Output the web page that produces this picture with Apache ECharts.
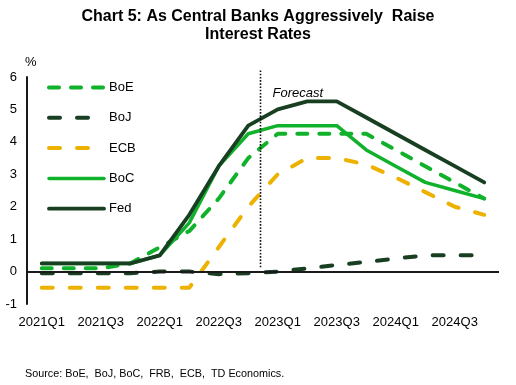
<!DOCTYPE html>
<html>
<head>
<meta charset="utf-8">
<script src="https://cdn.jsdelivr.net/npm/echarts@6/dist/echarts.min.js"></script>
<style>
html,body{margin:0;padding:0;background:#fff;}
#c{width:516px;height:385px;}
</style>
</head>
<body>
<div id="c"></div>
<script>
var categories = ['2021Q1','2021Q2','2021Q3','2021Q4','2022Q1','2022Q2','2022Q3','2022Q4','2023Q1','2023Q2','2023Q3','2023Q4','2024Q1','2024Q2','2024Q3','2024Q4'];
var boe = [0.1,0.1,0.1,0.25,0.75,1.25,2.25,3.5,4.25,4.25,4.25,4.25,3.75,3.25,2.75,2.25];
var boj = [-0.05,-0.05,-0.05,-0.05,0,0,-0.08,-0.05,0,0.1,0.2,0.3,0.4,0.5,0.5,0.5];
var ecb = [-0.5,-0.5,-0.5,-0.5,-0.5,-0.5,0.75,2.0,3.0,3.5,3.5,3.3,2.9,2.45,2.0,1.75];
var boc = [0.25,0.25,0.25,0.25,0.5,1.5,3.25,4.25,4.5,4.5,4.5,3.75,3.25,2.75,2.5,2.25];
var fed = [0.25,0.25,0.25,0.25,0.5,1.75,3.25,4.5,5.0,5.25,5.25,4.75,4.25,3.75,3.25,2.75];
var yTicks = [-1,0,1,2,3,4,5,6];
var forecastStart = 7.4;       // category position of the forecast divider
var forecastSpan = [6.2, 0.12]; // y-range of the divider

var GREEN = '#10B22B', DARK = '#183F22', YELLOW = '#EDB200';
var FONT = 'Liberation Sans, Arial, sans-serif';

var chart = echarts.init(document.getElementById('c'), null, {renderer:'canvas'});
function ser(name, data, color, width, type){
  return {
    name: name, type: 'line', data: data, symbol: 'none', silent: true,
    lineStyle: {color: color, width: width, type: type, cap: 'round', join: 'round'},
    itemStyle: {color: color}
  };
}
var series = [
  ser('BoE', boe, GREEN, 4, [10, 12]),
  ser('BoJ', boj, DARK, 4, [11, 17]),
  ser('ECB', ecb, YELLOW, 4, [11, 17]),
  ser('BoC', boc, GREEN, 3.5, 'solid'),
  ser('Fed', fed, DARK, 3.8, 'solid')
];
series[1].markLine = {
  silent: true, symbol: 'none', animation: false,
  label: {show: false},
  lineStyle: {color: '#1a1a1a', width: 2, type: 'solid'},
  data: [{yAxis: 0}]
};

chart.setOption({
  animation: false,
  textStyle: {fontFamily: FONT},
  title: [{
    text: 'Chart 5: As Central Banks Aggressively  Raise\nInterest Rates',
    left: 'center', top: 3,
    textStyle: {fontFamily: FONT, fontSize: 16, fontWeight: 'bold', color: '#000', lineHeight: 18}
  }, {
    text: 'Source: BoE,  BoJ, BoC,  FRB,  ECB,  TD Economics.',
    left: 20, top: 364,
    textStyle: {fontFamily: FONT, fontSize: 10.8, fontWeight: 'normal', color: '#000'}
  }, {
    text: '%', left: 20, top: 51,
    textStyle: {fontFamily: FONT, fontSize: 13, fontWeight: 'normal', color: '#000'}
  }],
  legend: {
    orient: 'vertical', left: 42, top: 76, itemWidth: 55, itemHeight: 12, itemGap: 17.3,
    itemStyle: {opacity: 0},
    lineStyle: {width: 'inherit'},
    textStyle: {fontFamily: FONT, fontSize: 13, color: '#000'},
    data: ['BoE','BoJ','ECB','BoC','Fed']
  },
  grid: {left: 27, right: 17, top: 77, bottom: 81, containLabel: false},
  xAxis: {
    type: 'category', data: categories, boundaryGap: true,
    axisLine: {show: false}, axisTick: {show: false}, splitLine: {show: false},
    axisLabel: {interval: 1, color: '#000', fontSize: 13, fontFamily: FONT, margin: 12}
  },
  yAxis: {
    type: 'value', min: yTicks[0], max: yTicks[yTicks.length-1], interval: 1,
    axisLine: {show: true, lineStyle: {color: '#1a1a1a', width: 2}},
    axisTick: {show: false}, splitLine: {show: false},
    axisLabel: {color: '#000', fontSize: 13, fontFamily: FONT, margin: 10}
  },
  series: series
});

// forecast divider placed through the chart's own scales (interpolated between category centres)
var i0 = Math.floor(forecastStart), t = forecastStart - i0;
var px0 = chart.convertToPixel({xAxisIndex: 0}, i0);
var px1 = chart.convertToPixel({xAxisIndex: 0}, i0 + 1);
var fx = Math.round(px0 + (px1 - px0) * t) + 0.5;
var fy1 = chart.convertToPixel({yAxisIndex: 0}, forecastSpan[0]);
var fy2 = chart.convertToPixel({yAxisIndex: 0}, forecastSpan[1]);
chart.setOption({
  graphic: [{
    type: 'line', silent: true, z: 5,
    shape: {x1: fx, y1: fy1, x2: fx, y2: fy2},
    style: {stroke: '#111', lineWidth: 1.6, lineDash: [1.6, 1.6]}
  }, {
    type: 'text', silent: true, z: 5,
    left: fx + 12, top: fy1 + 16,
    style: {text: 'Forecast', font: 'italic 13px ' + FONT, fill: '#000'}
  }]
});
</script>
</body>
</html>
